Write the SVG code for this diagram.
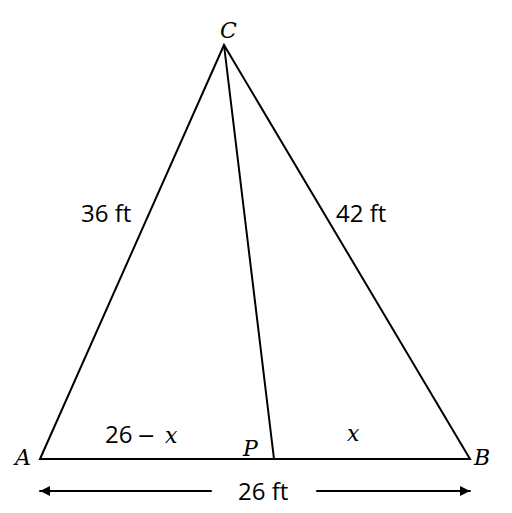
<svg xmlns="http://www.w3.org/2000/svg" width="512" height="513" viewBox="0 0 512 513">
<style>
.ln{stroke:#000;stroke-width:2;fill:none;stroke-linecap:round}
.t{font-family:"Open Sans","Liberation Sans",sans-serif;font-size:24px;fill:#000}
.m{font-family:"DejaVu Serif","Liberation Serif",serif;font-style:italic;font-size:22px;fill:#000}
</style>
<defs>
<marker id="ah" viewBox="0 0 10 10" refX="10" refY="5" markerWidth="10" markerHeight="10" markerUnits="userSpaceOnUse" orient="auto-start-reverse">
<path d="M0,0 L10,5 L0,10 Z" fill="#000"/>
</marker>
</defs>
<rect width="512" height="513" fill="#fff"/>
<g id="connectors">
<path class="ln" d="M40,459 L224,45 L470,459 Z"/>
<line class="ln" x1="224" y1="45" x2="274" y2="459"/>
<line class="ln" x1="40" y1="491" x2="211" y2="491" marker-start="url(#ah)"/>
<line class="ln" x1="317" y1="491" x2="470" y2="491" marker-end="url(#ah)"/>
</g>
<g id="node-A"><text class="m" x="15" y="465">A</text></g>
<g id="node-B"><text class="m" x="474" y="465">B</text></g>
<g id="node-C"><text class="m" x="220" y="38">C</text></g>
<g id="node-P"><text class="m" x="243" y="456">P</text></g>
<g id="labels">
<text class="t" x="81" y="222">36 ft</text>
<text class="t" x="336" y="222">42 ft</text>
<text class="t" y="443"><tspan x="105">26</tspan><tspan x="137" font-family="DejaVu Sans, sans-serif" font-size="22">−</tspan><tspan x="165" class="m">x</tspan></text>
<text class="m" x="347" y="441">x</text>
<text class="t" x="238" y="500">26 ft</text>
</g>
</svg>
